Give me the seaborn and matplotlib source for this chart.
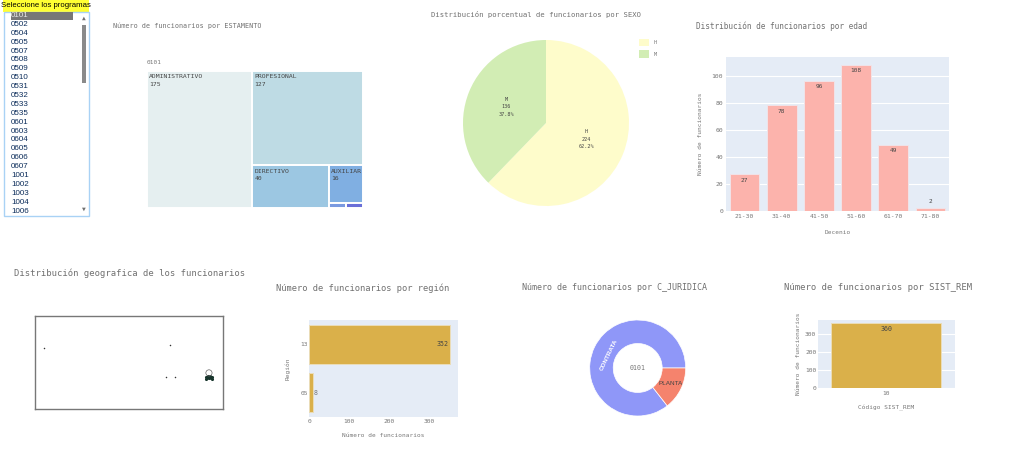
import matplotlib
matplotlib.use("Agg")
import matplotlib.pyplot as plt
from matplotlib.patches import Rectangle
import pandas as pd
import seaborn as sns

W, H = 1024, 459

programas = ["0101", "0502", "0504", "0505", "0507", "0508", "0509", "0510", "0531", "0532", "0533",
             "0535", "0601", "0603", "0604", "0605", "0606", "0607", "1001", "1002", "1003", "1004", "1006"]

estamentos = ["ADMINISTRATIVO", "PROFESIONAL", "DIRECTIVO", "AUXILIAR", "TECNICO", "OTRO"]
estamento_n = [175, 127, 40, 16, 1, 1]
estamento_col = ["#E5EFF0", "#BEDBE4", "#9CC7E2", "#80AFE2", "#7A9AE0", "#6A6FD8"]

sexo = ["H", "M"]
sexo_n = [224, 136]
sexo_col = ["#FEFCCB", "#D2EDB4"]

decenios = ["21-30", "31-40", "41-50", "51-60", "61-70", "71-80"]
decenio_n = [27, 78, 96, 108, 49, 2]

regiones = ["13", "05"]
region_n = [352, 8]

juridica = ["CONTRATA", "PLANTA"]
juridica_n = [308, 52]
juridica_col = ["#8F97F8", "#F5836D"]

sist_rem = ["10"]
sist_n = [360]

# lon / lat de las oficinas
isla_lon = [-109.4, -79.9, -80.7, -78.8]
isla_lat = [-27.1, -26.4, -33.9, -33.9]
stgo_lon = [-71.3, -70.9, -70.5, -70.1, -71.1, -70.7, -70.3, -71.4, -70.0]
stgo_lat = [-34.0, -33.8, -33.8, -34.0, -34.3, -34.1, -34.3, -34.5, -34.5]
circ_lon = [-70.7]
circ_lat = [-33.0]

SALMON = "#FCB3AC"
GOLD = "#DAB04A"
GRAY = "#777777"
DARK = "#444444"

sns.set_theme(style="darkgrid", rc={"axes.facecolor": "#E5ECF6", "grid.color": "white",
                                    "grid.linewidth": 0.8, "axes.linewidth": 0})
plt.rcParams["font.family"] = ["DejaVu Sans Mono"]

fig = plt.figure(figsize=(W / 100, H / 100), dpi=100, facecolor="white")


def px_axes(x0, y0, x1, y1, **kw):
    return fig.add_axes([x0 / W, 1 - y1 / H, (x1 - x0) / W, (y1 - y0) / H], **kw)


def title(x, y, s, size):
    fig.text(x / W, 1 - y / H, s, fontsize=size, color="#707070", va="center", ha="left")


def style_ticks(ax, size=4.5, ypad=2):
    ax.tick_params(labelsize=size, labelcolor=GRAY, length=0, pad=2)
    ax.tick_params(axis="y", pad=ypad)


title(113, 26, "Número de funcionarios por ESTAMENTO", 4.9)
title(431, 14, "Distribución porcentual de funcionarios por SEXO", 5.25)
title(696, 26, "Distribución de funcionarios por edad", 5.6)
title(14, 273, "Distribución geografica de los funcionarios", 6.4)
title(276, 288, "Número de funcionarios por región", 6.35)
title(522, 288, "Número de funcionarios por C_JURIDICA", 6.0)
title(784, 288, "Número de funcionarios por SIST_REM", 6.4)

# selector de programas
lb = px_axes(0, 0, W, H, zorder=5)
lb.set_xlim(0, W)
lb.set_ylim(H, 0)
lb.axis("off")
lb.patch.set_alpha(0)
lb.add_patch(Rectangle((3, 0), 86, 11.5, fc="#FFFF33", ec="none"))
lb.text(46, 5.5, "Seleccione los programas", fontsize=5.6, family="Liberation Sans", color="black",
        ha="center", va="center")
lb.add_patch(Rectangle((3.5, 12), 85, 204, fc="white", ec="#A9D2F5", lw=1))
lb.add_patch(Rectangle((11, 12), 62, 8, fc="#777777", ec="none"))
for i, p in enumerate(programas):
    lb.text(11, 15.5 + i * 8.89, p, fontsize=5.8, family="Liberation Sans", va="center", ha="left",
            color="#E8E8E8" if i == 0 else "#0B2C5A")
lb.add_patch(Rectangle((81.5, 25), 4.5, 58, fc="#8A8A8A", ec="none"))
lb.text(84, 18, "▲", fontsize=4.5, color="#707070", ha="center", va="center")
lb.text(84, 209, "▼", fontsize=4.5, color="#707070", ha="center", va="center")

# treemap
ax = px_axes(147, 71, 363, 208)
ax.set_xlim(0, 1)
ax.set_ylim(1, 0)
ax.axis("off")
total = sum(estamento_n)
w0 = estamento_n[0] / total
rest = total - estamento_n[0]
h1 = estamento_n[1] / rest
low = rest - estamento_n[1]
w2 = (1 - w0) * estamento_n[2] / low
tail = low - estamento_n[2]
h3 = (1 - h1) * estamento_n[3] / tail
w4 = (1 - w0 - w2) * estamento_n[4] / (estamento_n[4] + estamento_n[5])
boxes = [(0, 0, w0, 1), (w0, 0, 1 - w0, h1), (w0, h1, w2, 1 - h1), (w0 + w2, h1, 1 - w0 - w2, h3),
         (w0 + w2, h1 + h3, w4, 1 - h1 - h3), (w0 + w2 + w4, h1 + h3, 1 - w0 - w2 - w4, 1 - h1 - h3)]
for i, (x, y, w, h) in enumerate(boxes):
    ax.add_patch(Rectangle((x, y), w, h, fc=estamento_col[i], ec="white", lw=1.4))
    if i < 4:
        ax.annotate(f"{estamentos[i]}\n{estamento_n[i]}", (x, y), xytext=(1.6, -2.5), textcoords="offset points",
                    fontsize=4.6, color=DARK, va="top", ha="left", linespacing=1.55)
fig.text(147 / W, 1 - 63 / H, programas[0], fontsize=4.4, color=GRAY, va="center")

# sexo
ax = px_axes(463, 40, 629, 206)
wedges, _, pct = ax.pie(sexo_n, colors=sexo_col, startangle=90, counterclock=False, pctdistance=0.52,
                        autopct=lambda p: "", wedgeprops={"edgecolor": "none", "linewidth": 0},
                        textprops={"fontsize": 3.7, "color": DARK, "linespacing": 1.6})
for t, s, n in zip(pct, sexo, sexo_n):
    t.set_text(f"{s}\n{n}\n{100 * n / sum(sexo_n):.1f}%")
ax.set_xlim(-1, 1)
ax.set_ylim(-1, 1)
fig.legend(wedges, sexo, loc="upper left", bbox_to_anchor=(634.5 / W, 1 - 34 / H), frameon=False, fontsize=3.7,
           labelcolor=GRAY, handlelength=1.9, handleheight=1.9, handletextpad=1.0, labelspacing=0.75,
           borderpad=0.4)

# edad
ax = px_axes(726, 56.7, 949, 211)
df = pd.DataFrame({"decenio": decenios, "n": decenio_n})
sns.barplot(data=df, x="decenio", y="n", color=SALMON, saturation=1, width=0.8, edgecolor="#F0E3E8", linewidth=0.7, ax=ax)
ax.bar_label(ax.containers[0], labels=[str(v) if v > 5 else "" for v in decenio_n], padding=-6, fontsize=4.4, color=DARK)
ax.bar_label(ax.containers[0], labels=[str(v) if v <= 5 else "" for v in decenio_n], padding=3, fontsize=4.4, color=DARK)
ax.set_ylim(0, 114)
ax.set_xlim(-0.5, 5.5)
ax.set_yticks([0, 20, 40, 60, 80, 100])
ax.grid(False, axis="x")
ax.set_xlabel("Decenio", fontsize=4.4, color=GRAY, labelpad=8)
ax.set_ylabel("Número de funcionarios", fontsize=4.4, color=GRAY, labelpad=6)
style_ticks(ax, 4.6)

# mapa
ax = px_axes(35, 316, 223, 409)
sns.scatterplot(x=isla_lon, y=isla_lat, s=1.2, color="#333333", linewidth=0, ax=ax)
sns.scatterplot(x=stgo_lon, y=stgo_lat, s=5, color="#17352C", linewidth=0, ax=ax)
sns.scatterplot(x=circ_lon, y=circ_lat, s=20, facecolor="none", edgecolor="#666666", linewidth=0.5, ax=ax)
ax.set_xlim(-111.6, -67.4)
ax.set_ylim(-41.5, -19.6)
ax.set_facecolor("white")
ax.grid(False)
ax.set_xticks([])
ax.set_yticks([])
for s in ax.spines.values():
    s.set_visible(True)
    s.set_linewidth(1)
    s.set_color("#777777")

# region
ax = px_axes(309.3, 320, 457.7, 416.7)
df = pd.DataFrame({"region": regiones, "n": region_n})
sns.barplot(data=df, x="n", y="region", orient="h", color=GOLD, saturation=1, width=0.8, edgecolor="#EBDDB8", linewidth=0.7, ax=ax)
ax.bar_label(ax.containers[0], labels=[str(v) if v > 50 else "" for v in region_n], padding=-10, fontsize=4.8, color=DARK)
ax.bar_label(ax.containers[0], labels=[str(v) if v <= 50 else "" for v in region_n], padding=1, fontsize=4.8, color=GRAY)
ax.set_xlim(0, 371)
ax.set_ylim(1.5, -0.5)
ax.set_xticks([0, 100, 200, 300])
ax.grid(False, axis="x")
ax.set_xlabel("Número de funcionarios", fontsize=4.4, color=GRAY, labelpad=6)
ax.set_ylabel("Región", fontsize=4.4, color=GRAY, labelpad=7)
style_ticks(ax, 4.5, ypad=1)

# calidad juridica
ax = px_axes(589.7, 320, 685.7, 416)
wedges, _ = ax.pie(juridica_n, colors=juridica_col, startangle=0, counterclock=True,
                   wedgeprops={"width": 0.49, "edgecolor": "white", "linewidth": 0.5})
ax.set_xlim(-1, 1)
ax.set_ylim(-1, 1)
ax.text(0, 0, programas[0], fontsize=4.8, color=GRAY, ha="center", va="center")
mid0 = (wedges[0].theta1 + wedges[0].theta2) / 2
ax.annotate(juridica[0], (-0.6, 0.28), fontsize=4.6, color="white", fontweight="bold", rotation=mid0 - 90,
            ha="center", va="center", family="Liberation Sans")
ax.annotate(juridica[1], (0.69, -0.33), fontsize=4.6, color=DARK, ha="center", va="center", family="Liberation Sans")

# sistema remuneracion
ax = px_axes(817.7, 320, 955, 388.3)
df = pd.DataFrame({"cod": sist_rem, "n": sist_n})
sns.barplot(data=df, x="cod", y="n", color=GOLD, saturation=1, width=0.8, edgecolor="#EBDDB8", linewidth=0.7, ax=ax)
ax.bar_label(ax.containers[0], padding=-7, fontsize=4.8, color=DARK)
ax.set_xlim(-0.5, 0.5)
ax.set_ylim(0, 375)
ax.set_yticks([0, 100, 200, 300])
ax.grid(False, axis="x")
ax.set_xlabel("Código SIST_REM", fontsize=4.4, color=GRAY, labelpad=6)
ax.set_ylabel("Número de funcionarios", fontsize=4.4, color=GRAY, labelpad=3)
style_ticks(ax, 4.5, ypad=1)

fig.savefig("out.png", dpi=100, facecolor="white")
